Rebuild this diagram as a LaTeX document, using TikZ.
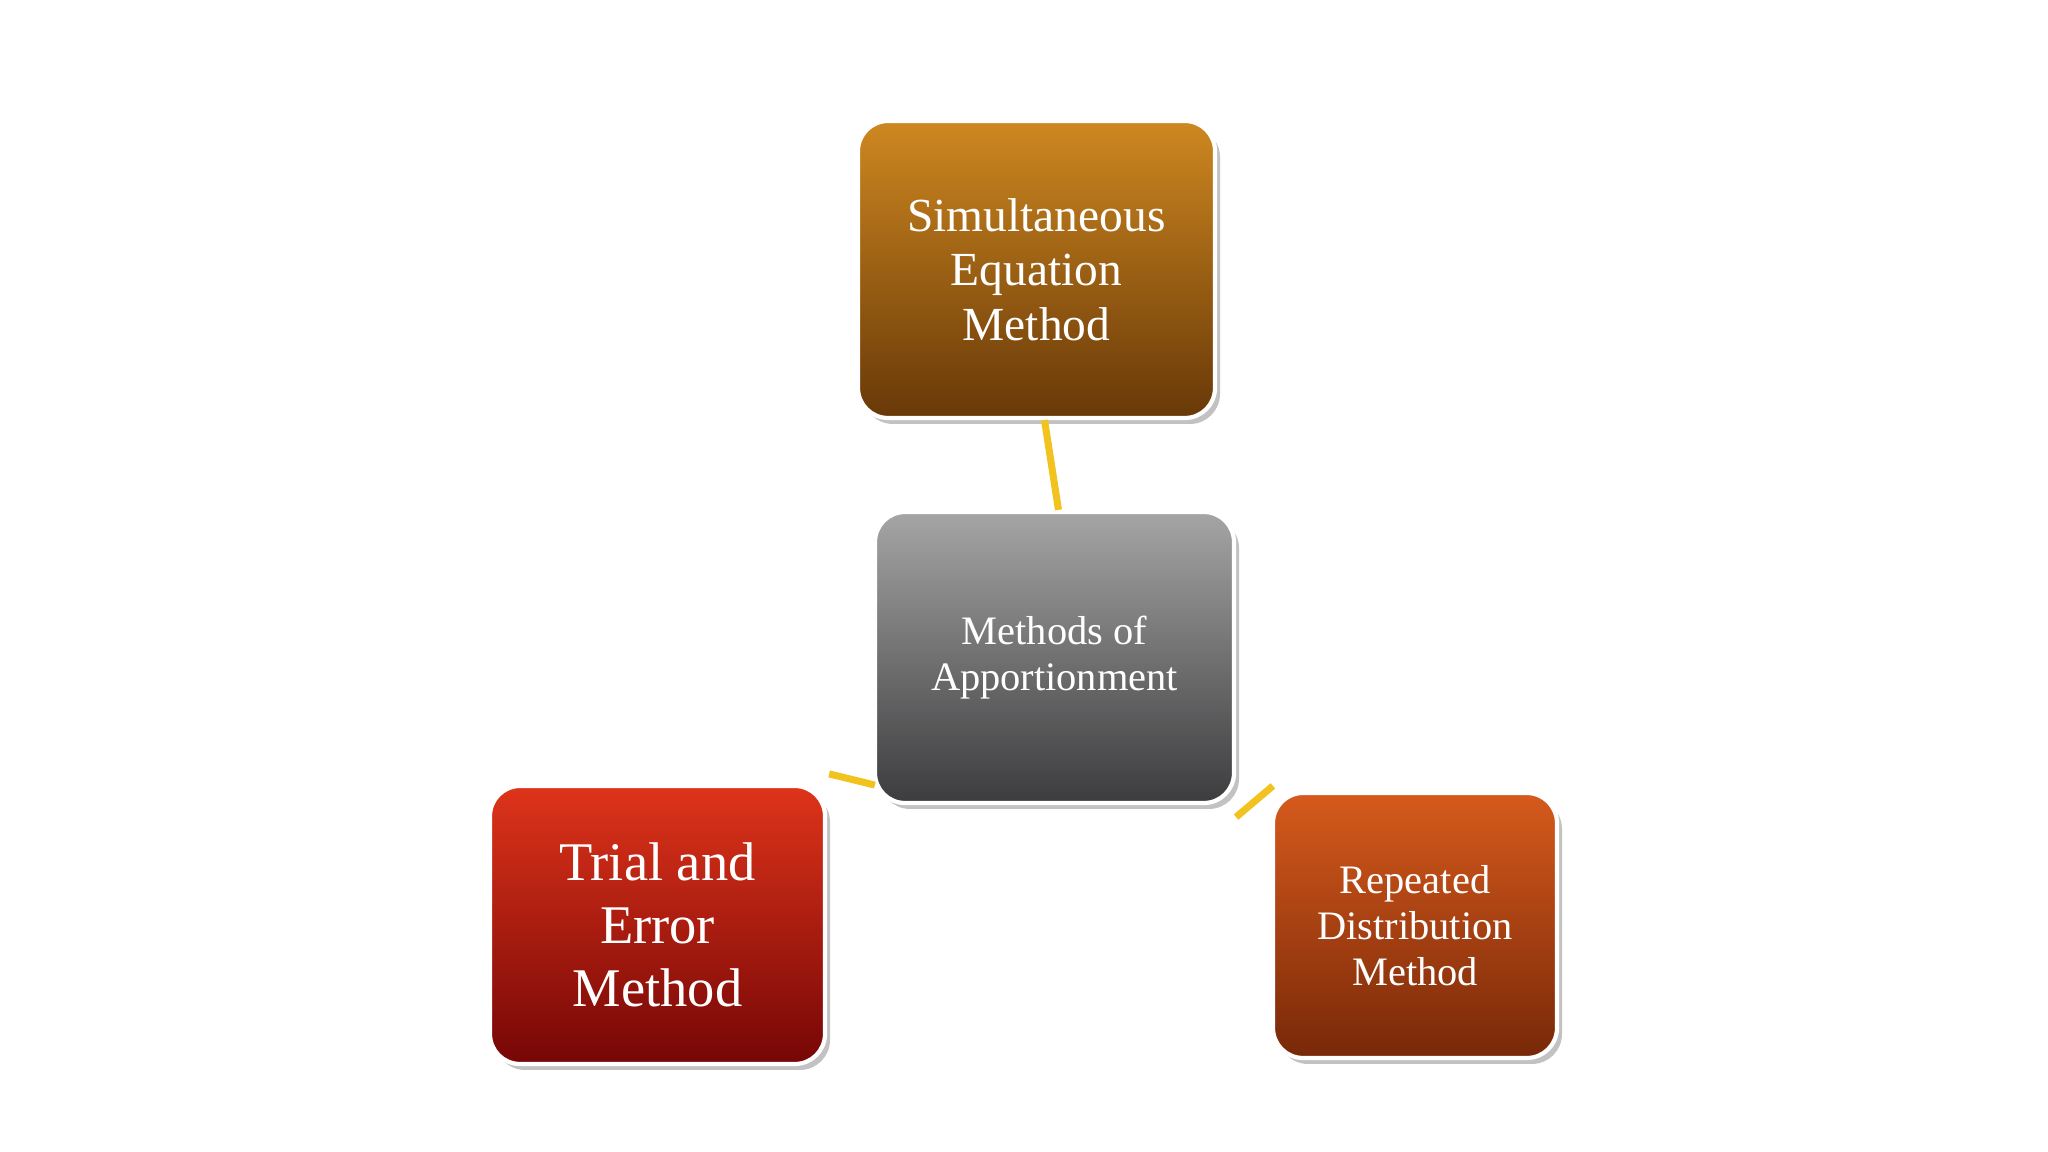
\documentclass[tikz,border=0pt]{standalone}
\usepackage{fontspec}
\setmainfont{Liberation Serif}
\usetikzlibrary{shadows}
\definecolor{conn}{HTML}{F2C21E}
\begin{document}
\begin{tikzpicture}[
 box/.style={rounded corners=0.3cm, draw=white, line width=1.2pt, text=white, align=center,
   drop shadow={shadow xshift=0.05cm, shadow yshift=-0.06cm, fill=black!40, opacity=0.6}},
 link/.style={draw=conn, line width=2pt}]
\useasboundingbox (0,0) rectangle (20.48,11.52);
\node[box, minimum width=3.57cm, minimum height=2.97cm, top color={rgb,255:red,206;green,136;blue,32}, bottom color={rgb,255:red,104;green,56;blue,8}, font=\fontsize{13.5}{15.5}\selectfont] (top) at (10.365,8.825) {Simultaneous\\Equation\\Method};
\node[box, minimum width=3.59cm, minimum height=2.91cm, top color={rgb,255:red,165;green,165;blue,165}, bottom color={rgb,255:red,60;green,60;blue,62}, font=\fontsize{11.5}{13}\selectfont] (mid) at (10.545,4.945) {Methods of\\Apportionment};
\node[box, minimum width=3.35cm, minimum height=2.78cm, top color={rgb,255:red,222;green,52;blue,26}, bottom color={rgb,255:red,118;green,6;blue,6}, font=\fontsize{15.5}{18}\selectfont] (left) at (6.575,2.27) {Trial and\\Error\\Method};
\node[box, minimum width=2.84cm, minimum height=2.65cm, top color={rgb,255:red,214;green,90;blue,28}, bottom color={rgb,255:red,120;green,40;blue,8}, font=\fontsize{11.5}{13}\selectfont] (right) at (14.15,2.265) {Repeated\\Distribution\\Method};
\begin{scope}[on background layer/.style={}]
\end{scope}
\draw[link] (top.south) ++(0.08,0) coordinate (a) -- ([xshift=0.04cm]mid.north);
\draw[link] ([xshift=0.02cm,yshift=0.1cm]left.north east) -- ([xshift=0.02cm,yshift=0.2cm]mid.south west);
\draw[link] ([xshift=0.0cm,yshift=-0.12cm]mid.south east) -- ([yshift=0.05cm,xshift=0.02cm]right.north west);
\end{tikzpicture}
\end{document}
